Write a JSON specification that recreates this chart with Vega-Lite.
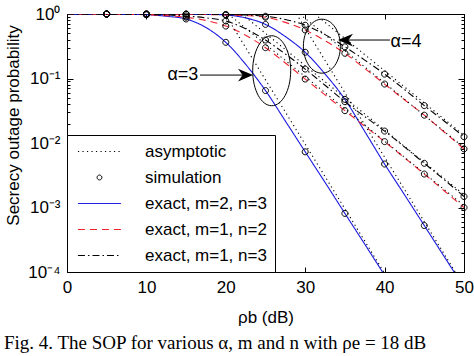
{
  "$schema": "https://vega.github.io/schema/vega-lite/v6.json",
  "width": 397,
  "height": 258,
  "autosize": "none",
  "padding": {"left": 67, "top": 14, "right": 10, "bottom": 84},
  "background": "white",
  "title": {"text": "Fig. 4. The SOP for various α, m and n with ρe = 18 dB", "orient": "bottom", "anchor": "start", "frame": "bounds", "font": "Liberation Serif", "fontSize": 19, "fontWeight": "normal", "color": "black", "offset": 9},
  "datasets": {
    "d": [
      {"x":0,"p":1,"s":"exact, m=2, n=3","c":"b3"},{"x":5,"p":0.997,"s":"exact, m=2, n=3","c":"b3"},{"x":10,"p":0.977,"s":"exact, m=2, n=3","c":"b3"},{"x":12.5,"p":0.923,"s":"exact, m=2, n=3","c":"b3"},{"x":15,"p":0.836,"s":"exact, m=2, n=3","c":"b3"},{"x":17.5,"p":0.617,"s":"exact, m=2, n=3","c":"b3"},{"x":20,"p":0.364,"s":"exact, m=2, n=3","c":"b3"},{"x":22.5,"p":0.166,"s":"exact, m=2, n=3","c":"b3"},{"x":25,"p":0.065,"s":"exact, m=2, n=3","c":"b3"},{"x":27.5,"p":0.0219,"s":"exact, m=2, n=3","c":"b3"},{"x":30,"p":0.0073,"s":"exact, m=2, n=3","c":"b3"},{"x":32.5,"p":0.00245,"s":"exact, m=2, n=3","c":"b3"},{"x":35,"p":0.00081,"s":"exact, m=2, n=3","c":"b3"},{"x":37.5,"p":0.00027,"s":"exact, m=2, n=3","c":"b3"},{"x":40,"p":0.000089,"s":"exact, m=2, n=3","c":"b3"},
      {"x":0,"p":1,"s":"exact, m=2, n=3","c":"b4"},{"x":10,"p":1,"s":"exact, m=2, n=3","c":"b4"},{"x":15,"p":0.998,"s":"exact, m=2, n=3","c":"b4"},{"x":17.5,"p":0.991,"s":"exact, m=2, n=3","c":"b4"},{"x":20,"p":0.966,"s":"exact, m=2, n=3","c":"b4"},{"x":22.5,"p":0.87,"s":"exact, m=2, n=3","c":"b4"},{"x":25,"p":0.69,"s":"exact, m=2, n=3","c":"b4"},{"x":27.5,"p":0.447,"s":"exact, m=2, n=3","c":"b4"},{"x":30,"p":0.255,"s":"exact, m=2, n=3","c":"b4"},{"x":32.5,"p":0.1175,"s":"exact, m=2, n=3","c":"b4"},{"x":35,"p":0.0475,"s":"exact, m=2, n=3","c":"b4"},{"x":37.5,"p":0.0151,"s":"exact, m=2, n=3","c":"b4"},{"x":40,"p":0.00472,"s":"exact, m=2, n=3","c":"b4"},{"x":42.5,"p":0.00158,"s":"exact, m=2, n=3","c":"b4"},{"x":45,"p":0.000525,"s":"exact, m=2, n=3","c":"b4"},{"x":47.5,"p":0.000174,"s":"exact, m=2, n=3","c":"b4"},{"x":50,"p":0.0000575,"s":"exact, m=2, n=3","c":"b4"},
      {"x":0,"p":1,"s":"exact, m=1, n=2","c":"r3"},{"x":5,"p":0.995,"s":"exact, m=1, n=2","c":"r3"},{"x":10,"p":0.975,"s":"exact, m=1, n=2","c":"r3"},{"x":12.5,"p":0.944,"s":"exact, m=1, n=2","c":"r3"},{"x":15,"p":0.891,"s":"exact, m=1, n=2","c":"r3"},{"x":17.5,"p":0.794,"s":"exact, m=1, n=2","c":"r3"},{"x":20,"p":0.65,"s":"exact, m=1, n=2","c":"r3"},{"x":22.5,"p":0.468,"s":"exact, m=1, n=2","c":"r3"},{"x":25,"p":0.30,"s":"exact, m=1, n=2","c":"r3"},{"x":27.5,"p":0.174,"s":"exact, m=1, n=2","c":"r3"},{"x":30,"p":0.098,"s":"exact, m=1, n=2","c":"r3"},{"x":32.5,"p":0.0556,"s":"exact, m=1, n=2","c":"r3"},{"x":35,"p":0.0317,"s":"exact, m=1, n=2","c":"r3"},{"x":37.5,"p":0.0182,"s":"exact, m=1, n=2","c":"r3"},{"x":40,"p":0.0105,"s":"exact, m=1, n=2","c":"r3"},{"x":42.5,"p":0.0059,"s":"exact, m=1, n=2","c":"r3"},{"x":45,"p":0.0033,"s":"exact, m=1, n=2","c":"r3"},{"x":47.5,"p":0.00182,"s":"exact, m=1, n=2","c":"r3"},{"x":50,"p":0.001,"s":"exact, m=1, n=2","c":"r3"},
      {"x":0,"p":1,"s":"exact, m=1, n=2","c":"r4"},{"x":10,"p":1,"s":"exact, m=1, n=2","c":"r4"},{"x":15,"p":0.993,"s":"exact, m=1, n=2","c":"r4"},{"x":17.5,"p":0.982,"s":"exact, m=1, n=2","c":"r4"},{"x":20,"p":0.966,"s":"exact, m=1, n=2","c":"r4"},{"x":22.5,"p":0.944,"s":"exact, m=1, n=2","c":"r4"},{"x":25,"p":0.891,"s":"exact, m=1, n=2","c":"r4"},{"x":27.5,"p":0.741,"s":"exact, m=1, n=2","c":"r4"},{"x":30,"p":0.565,"s":"exact, m=1, n=2","c":"r4"},{"x":32.5,"p":0.385,"s":"exact, m=1, n=2","c":"r4"},{"x":35,"p":0.246,"s":"exact, m=1, n=2","c":"r4"},{"x":37.5,"p":0.143,"s":"exact, m=1, n=2","c":"r4"},{"x":40,"p":0.082,"s":"exact, m=1, n=2","c":"r4"},{"x":42.5,"p":0.0468,"s":"exact, m=1, n=2","c":"r4"},{"x":45,"p":0.027,"s":"exact, m=1, n=2","c":"r4"},{"x":47.5,"p":0.0148,"s":"exact, m=1, n=2","c":"r4"},{"x":50,"p":0.0081,"s":"exact, m=1, n=2","c":"r4"},
      {"x":0,"p":1,"s":"exact, m=1, n=3","c":"k3"},{"x":5,"p":0.998,"s":"exact, m=1, n=3","c":"k3"},{"x":10,"p":0.984,"s":"exact, m=1, n=3","c":"k3"},{"x":12.5,"p":0.966,"s":"exact, m=1, n=3","c":"k3"},{"x":15,"p":0.933,"s":"exact, m=1, n=3","c":"k3"},{"x":17.5,"p":0.871,"s":"exact, m=1, n=3","c":"k3"},{"x":20,"p":0.78,"s":"exact, m=1, n=3","c":"k3"},{"x":22.5,"p":0.589,"s":"exact, m=1, n=3","c":"k3"},{"x":25,"p":0.395,"s":"exact, m=1, n=3","c":"k3"},{"x":27.5,"p":0.24,"s":"exact, m=1, n=3","c":"k3"},{"x":30,"p":0.14,"s":"exact, m=1, n=3","c":"k3"},{"x":32.5,"p":0.0785,"s":"exact, m=1, n=3","c":"k3"},{"x":35,"p":0.0437,"s":"exact, m=1, n=3","c":"k3"},{"x":37.5,"p":0.0257,"s":"exact, m=1, n=3","c":"k3"},{"x":40,"p":0.0153,"s":"exact, m=1, n=3","c":"k3"},{"x":42.5,"p":0.0087,"s":"exact, m=1, n=3","c":"k3"},{"x":45,"p":0.00484,"s":"exact, m=1, n=3","c":"k3"},{"x":47.5,"p":0.0027,"s":"exact, m=1, n=3","c":"k3"},{"x":50,"p":0.00148,"s":"exact, m=1, n=3","c":"k3"},
      {"x":0,"p":1,"s":"exact, m=1, n=3","c":"k4"},{"x":10,"p":1,"s":"exact, m=1, n=3","c":"k4"},{"x":15,"p":0.995,"s":"exact, m=1, n=3","c":"k4"},{"x":17.5,"p":0.99,"s":"exact, m=1, n=3","c":"k4"},{"x":20,"p":0.982,"s":"exact, m=1, n=3","c":"k4"},{"x":22.5,"p":0.964,"s":"exact, m=1, n=3","c":"k4"},{"x":25,"p":0.923,"s":"exact, m=1, n=3","c":"k4"},{"x":27.5,"p":0.822,"s":"exact, m=1, n=3","c":"k4"},{"x":30,"p":0.67,"s":"exact, m=1, n=3","c":"k4"},{"x":32.5,"p":0.479,"s":"exact, m=1, n=3","c":"k4"},{"x":35,"p":0.31,"s":"exact, m=1, n=3","c":"k4"},{"x":37.5,"p":0.193,"s":"exact, m=1, n=3","c":"k4"},{"x":40,"p":0.117,"s":"exact, m=1, n=3","c":"k4"},{"x":42.5,"p":0.0676,"s":"exact, m=1, n=3","c":"k4"},{"x":45,"p":0.038,"s":"exact, m=1, n=3","c":"k4"},{"x":47.5,"p":0.0219,"s":"exact, m=1, n=3","c":"k4"},{"x":50,"p":0.0125,"s":"exact, m=1, n=3","c":"k4"},
      {"x":19.9,"p":1,"s":"asymptotic","c":"ab3"},{"x":39.9,"p":0.0001,"s":"asymptotic","c":"ab3"},
      {"x":28.9,"p":1,"s":"asymptotic","c":"ab4"},{"x":48.9,"p":0.0001,"s":"asymptotic","c":"ab4"},
      {"x":20.3,"p":1,"s":"asymptotic","c":"ar3"},{"x":50,"p":0.00107,"s":"asymptotic","c":"ar3"},
      {"x":22,"p":1,"s":"asymptotic","c":"ak3"},{"x":50,"p":0.00158,"s":"asymptotic","c":"ak3"},
      {"x":31.2,"p":1,"s":"asymptotic","c":"ak4"},{"x":50,"p":0.0132,"s":"asymptotic","c":"ak4"},
      {"x":29.3,"p":1,"s":"asymptotic","c":"ar4"},{"x":50,"p":0.0085,"s":"asymptotic","c":"ar4"},
      {"x":5,"p":0.997,"s":"simulation","c":"b3"},{"x":10,"p":0.977,"s":"simulation","c":"b3"},{"x":15,"p":0.836,"s":"simulation","c":"b3"},{"x":20,"p":0.364,"s":"simulation","c":"b3"},{"x":25,"p":0.065,"s":"simulation","c":"b3"},{"x":30,"p":0.0073,"s":"simulation","c":"b3"},{"x":35,"p":0.00081,"s":"simulation","c":"b3"},
      {"x":5,"p":1,"s":"simulation","c":"b4"},{"x":10,"p":1,"s":"simulation","c":"b4"},{"x":15,"p":0.998,"s":"simulation","c":"b4"},{"x":20,"p":0.966,"s":"simulation","c":"b4"},{"x":25,"p":0.69,"s":"simulation","c":"b4"},{"x":30,"p":0.255,"s":"simulation","c":"b4"},{"x":35,"p":0.0475,"s":"simulation","c":"b4"},{"x":40,"p":0.00472,"s":"simulation","c":"b4"},{"x":45,"p":0.000525,"s":"simulation","c":"b4"},
      {"x":5,"p":0.995,"s":"simulation","c":"r3"},{"x":10,"p":0.975,"s":"simulation","c":"r3"},{"x":15,"p":0.891,"s":"simulation","c":"r3"},{"x":20,"p":0.65,"s":"simulation","c":"r3"},{"x":25,"p":0.30,"s":"simulation","c":"r3"},{"x":30,"p":0.098,"s":"simulation","c":"r3"},{"x":35,"p":0.0317,"s":"simulation","c":"r3"},{"x":40,"p":0.0105,"s":"simulation","c":"r3"},{"x":45,"p":0.0033,"s":"simulation","c":"r3"},{"x":50,"p":0.001,"s":"simulation","c":"r3"},
      {"x":5,"p":1,"s":"simulation","c":"r4"},{"x":10,"p":1,"s":"simulation","c":"r4"},{"x":15,"p":0.993,"s":"simulation","c":"r4"},{"x":20,"p":0.966,"s":"simulation","c":"r4"},{"x":25,"p":0.891,"s":"simulation","c":"r4"},{"x":30,"p":0.565,"s":"simulation","c":"r4"},{"x":35,"p":0.246,"s":"simulation","c":"r4"},{"x":40,"p":0.082,"s":"simulation","c":"r4"},{"x":45,"p":0.027,"s":"simulation","c":"r4"},{"x":50,"p":0.0081,"s":"simulation","c":"r4"},
      {"x":5,"p":0.998,"s":"simulation","c":"k3"},{"x":10,"p":0.984,"s":"simulation","c":"k3"},{"x":15,"p":0.933,"s":"simulation","c":"k3"},{"x":20,"p":0.78,"s":"simulation","c":"k3"},{"x":25,"p":0.395,"s":"simulation","c":"k3"},{"x":30,"p":0.14,"s":"simulation","c":"k3"},{"x":35,"p":0.0437,"s":"simulation","c":"k3"},{"x":40,"p":0.0153,"s":"simulation","c":"k3"},{"x":45,"p":0.00484,"s":"simulation","c":"k3"},{"x":50,"p":0.00148,"s":"simulation","c":"k3"},
      {"x":5,"p":1,"s":"simulation","c":"k4"},{"x":10,"p":1,"s":"simulation","c":"k4"},{"x":15,"p":0.995,"s":"simulation","c":"k4"},{"x":20,"p":0.982,"s":"simulation","c":"k4"},{"x":25,"p":0.923,"s":"simulation","c":"k4"},{"x":30,"p":0.67,"s":"simulation","c":"k4"},{"x":35,"p":0.31,"s":"simulation","c":"k4"},{"x":40,"p":0.117,"s":"simulation","c":"k4"},{"x":45,"p":0.038,"s":"simulation","c":"k4"},{"x":50,"p":0.0125,"s":"simulation","c":"k4"}
    ]
  },
  "layer": [
    {
      "data": {"name": "d"},
      "transform": [{"filter": "datum.s != 'simulation'"}],
      "mark": {"type": "line", "strokeWidth": 1.1, "clip": true, "interpolate": "monotone"},
      "encoding": {
        "x": {"field": "x", "type": "quantitative", "scale": {"domain": [0, 50], "nice": false, "zero": false},
          "axis": {"orient": "bottom", "values": [0, 10, 20, 30, 40, 50], "tickSize": -5, "labelPadding": 12, "labelFlush": false, "title": "ρb (dB)", "titlePadding": 14}},
        "y": {"field": "p", "type": "quantitative", "scale": {"type": "log", "domain": [0.0001, 1], "nice": false},
          "axis": {"orient": "left", "values": [0.0001,0.0002,0.0003,0.0004,0.0005,0.0006,0.0007,0.0008,0.0009,0.001,0.002,0.003,0.004,0.005,0.006,0.007,0.008,0.009,0.01,0.02,0.03,0.04,0.05,0.06,0.07,0.08,0.09,0.1,0.2,0.3,0.4,0.5,0.6,0.7,0.8,0.9,1],
            "tickSize": {"condition": {"test": "datum.value==1||datum.value==0.1||datum.value==0.01||datum.value==0.001||datum.value==0.0001", "value": -6}, "value": -3},
            "labelPadding": 13,
            "labelExpr": "datum.value==1?'10⁰':datum.value==0.1?'10⁻¹':datum.value==0.01?'10⁻²':datum.value==0.001?'10⁻³':datum.value==0.0001?'10⁻⁴':''",
            "title": "Secrecy outage probability", "titleX": -54, "titleY": 111, "titleBaseline": "middle"}},
        "detail": {"field": "c"},
        "color": {"field": "s", "type": "nominal",
          "scale": {"domain": ["asymptotic", "simulation", "exact, m=2, n=3", "exact, m=1, n=2", "exact, m=1, n=3"], "range": ["black", "black", "#1a1ae0", "#f0202c", "black"]},
          "legend": {"orient": "bottom-left", "offset": 0, "title": null, "padding": 8, "strokeColor": "black", "fillColor": "white", "labelFontSize": 17, "labelFont": "Liberation Sans", "labelColor": "black", "symbolSize": 116, "symbolOffset": 16, "symbolStrokeWidth": 1, "rowPadding": 8, "labelOffset": 37, "labelLimit": 300, "cornerRadius": 0,
            "encode": {"symbols": {"stroke": {"signal": "datum.value=='exact, m=2, n=3'?'#1a1ae0':datum.value=='exact, m=1, n=2'?'#f0202c':'black'"}, "strokeDash": {"scale": "strokeDash", "field": "value"}, "shape": {"scale": "shape", "field": "value"}, "fill": {"value": "transparent"},
              "update": {"stroke": {"signal": "datum.value=='exact, m=2, n=3'?'#1a1ae0':datum.value=='exact, m=1, n=2'?'#f0202c':'black'"}, "strokeDash": {"scale": "strokeDash", "field": "value"}, "shape": {"scale": "shape", "field": "value"}, "fill": {"value": "transparent"}}}}}},
        "strokeDash": {"field": "s", "type": "nominal",
          "scale": {"domain": ["asymptotic", "simulation", "exact, m=2, n=3", "exact, m=1, n=2", "exact, m=1, n=3"], "range": [[1.2, 3.3], [1, 0], [1, 0], [7, 5], [7, 3, 1.5, 3]]},
          "legend": null}
      }
    },
    {
      "data": {"name": "d"},
      "transform": [{"filter": "datum.s == 'simulation'"}],
      "mark": {"type": "point", "filled": false, "size": 178, "strokeWidth": 1, "opacity": 1},
      "encoding": {
        "x": {"field": "x", "type": "quantitative", "scale": {"domain": [0, 50], "nice": false, "zero": false},
          "axis": {"orient": "top", "values": [0, 10, 20, 30, 40, 50], "tickSize": -5, "labels": false, "title": null}},
        "y": {"field": "p", "type": "quantitative", "scale": {"type": "log", "domain": [0.0001, 1], "nice": false},
          "axis": {"orient": "right", "values": [0.0001,0.0002,0.0003,0.0004,0.0005,0.0006,0.0007,0.0008,0.0009,0.001,0.002,0.003,0.004,0.005,0.006,0.007,0.008,0.009,0.01,0.02,0.03,0.04,0.05,0.06,0.07,0.08,0.09,0.1,0.2,0.3,0.4,0.5,0.6,0.7,0.8,0.9,1],
            "tickSize": {"condition": {"test": "datum.value==1||datum.value==0.1||datum.value==0.01||datum.value==0.001||datum.value==0.0001", "value": -6}, "value": -3},
            "labels": false, "title": null}},
        "color": {"field": "s", "type": "nominal",
          "scale": {"domain": ["asymptotic", "simulation", "exact, m=2, n=3", "exact, m=1, n=2", "exact, m=1, n=3"], "range": ["black", "black", "#1a1ae0", "#f0202c", "black"]},
          "legend": {"orient": "bottom-left", "offset": 0, "title": null, "padding": 8, "strokeColor": "black", "fillColor": "white", "labelFontSize": 17, "labelFont": "Liberation Sans", "labelColor": "black", "symbolSize": 116, "symbolOffset": 16, "symbolStrokeWidth": 1, "rowPadding": 8, "labelOffset": 37, "labelLimit": 300, "cornerRadius": 0,
            "encode": {"symbols": {"stroke": {"signal": "datum.value=='exact, m=2, n=3'?'#1a1ae0':datum.value=='exact, m=1, n=2'?'#f0202c':'black'"}, "strokeDash": {"scale": "strokeDash", "field": "value"}, "shape": {"scale": "shape", "field": "value"}, "fill": {"value": "transparent"},
              "update": {"stroke": {"signal": "datum.value=='exact, m=2, n=3'?'#1a1ae0':datum.value=='exact, m=1, n=2'?'#f0202c':'black'"}, "strokeDash": {"scale": "strokeDash", "field": "value"}, "shape": {"scale": "shape", "field": "value"}, "fill": {"value": "transparent"}}}}}},
        "shape": {"field": "s", "type": "nominal",
          "scale": {"domain": ["asymptotic", "simulation", "exact, m=2, n=3", "exact, m=1, n=2", "exact, m=1, n=3"], "range": ["M-4,0L4,0", "M-0.45,0A0.45,0.45,0,1,0,0.45,0A0.45,0.45,0,1,0,-0.45,0Z", "M-4,0L4,0", "M-4,0L4,0", "M-4,0L4,0"]},
          "legend": null}
      }
    },
    {
      "data": {"values": [{"x": 25.78, "p": 0.132}]},
      "mark": {"type": "point", "filled": false, "stroke": "black", "strokeWidth": 1, "size": 4900, "opacity": 1, "shape": "M-0.543,0A0.543,1,0,1,1,0.543,0A0.543,1,0,1,1,-0.543,0Z"},
      "encoding": {
        "x": {"field": "x", "type": "quantitative", "axis": null},
        "y": {"field": "p", "type": "quantitative", "scale": {"type": "log"}, "axis": null}
      }
    },
    {
      "data": {"values": [{"x": 32.1, "p": 0.317}]},
      "mark": {"type": "point", "filled": false, "stroke": "black", "strokeWidth": 1, "size": 2916, "opacity": 1, "shape": "M-0.685,0A0.685,1,0,1,1,0.685,0A0.685,1,0,1,1,-0.685,0Z"},
      "encoding": {
        "x": {"field": "x", "type": "quantitative", "axis": null},
        "y": {"field": "p", "type": "quantitative", "scale": {"type": "log"}, "axis": null}
      }
    },
    {
      "data": {"values": [{"x": 16.75, "x2": 23.0, "p": 0.113}, {"x": 40.68, "x2": 34.6, "p": 0.395}]},
      "mark": {"type": "rule", "color": "black", "strokeWidth": 1},
      "encoding": {
        "x": {"field": "x", "type": "quantitative", "axis": null},
        "x2": {"field": "x2"},
        "y": {"field": "p", "type": "quantitative", "scale": {"type": "log"}, "axis": null}
      }
    },
    {
      "data": {"values": [{"x": 23.43, "p": 0.113}]},
      "mark": {"type": "point", "filled": true, "color": "black", "size": 225, "opacity": 1, "shape": "M0,0L-2,-0.85L-1.4,0L-2,0.85Z"},
      "encoding": {
        "x": {"field": "x", "type": "quantitative", "axis": null},
        "y": {"field": "p", "type": "quantitative", "scale": {"type": "log"}, "axis": null}
      }
    },
    {
      "data": {"values": [{"x": 34.13, "p": 0.395}]},
      "mark": {"type": "point", "filled": true, "color": "black", "size": 225, "opacity": 1, "shape": "M0,0L2,-0.85L1.4,0L2,0.85Z"},
      "encoding": {
        "x": {"field": "x", "type": "quantitative", "axis": null},
        "y": {"field": "p", "type": "quantitative", "scale": {"type": "log"}, "axis": null}
      }
    },
    {
      "data": {"values": [{"x": 14.6, "p": 0.113, "t": "α=3"}, {"x": 42.7, "p": 0.368, "t": "α=4"}]},
      "mark": {"type": "text", "font": "Liberation Sans", "fontSize": 18, "color": "black", "align": "center", "baseline": "middle"},
      "encoding": {
        "x": {"field": "x", "type": "quantitative", "axis": null},
        "y": {"field": "p", "type": "quantitative", "scale": {"type": "log"}, "axis": null},
        "text": {"field": "t"}
      }
    }
  ],
  "resolve": {"axis": {"x": "independent", "y": "independent"}},
  "config": {
    "view": {"stroke": "black", "strokeWidth": 1},
    "font": "Liberation Sans",
    "axis": {"grid": false, "domainColor": "black", "tickColor": "black", "tickWidth": 1, "labelColor": "black", "titleColor": "black", "labelFont": "Liberation Sans", "titleFont": "Liberation Sans", "labelFontSize": 17, "titleFontSize": 17, "titleFontWeight": "normal"}
  }
}
